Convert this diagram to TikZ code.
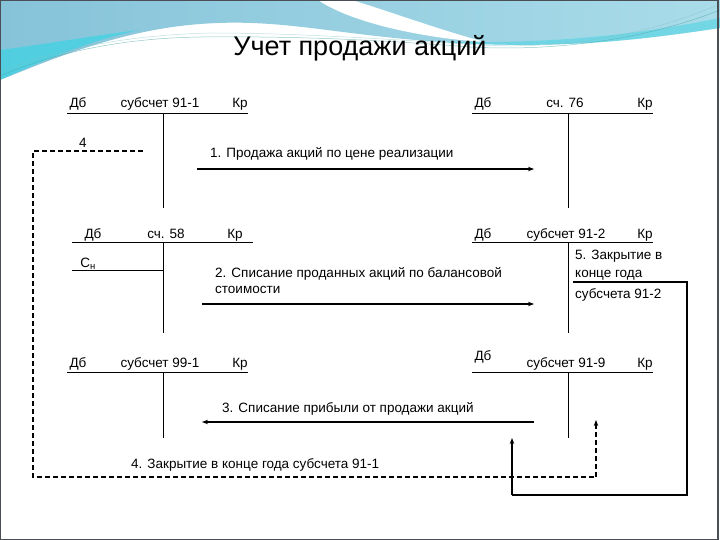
\documentclass[tikz,border=0pt]{standalone}
\usepackage{fontspec}
\setmainfont{Liberation Sans}
\usetikzlibrary{arrows.meta}
\definecolor{bandl}{HTML}{86C3D9}
\definecolor{bandr}{HTML}{A9DCE9}
\definecolor{wavecyan}{HTML}{3FD3E3}
\definecolor{frame}{HTML}{4A4F55}
\newcommand{\lbfont}{\fontsize{13.5}{16}\selectfont}

\begin{document}
\begin{tikzpicture}[x=1pt,y=-1pt,>=Stealth,
  lbl/.style={font=\lbfont,anchor=base,inner sep=0pt},
  lbll/.style={lbl,anchor=base west},
  acct/.style={line width=0.9pt},
  post/.style={line width=2.3pt,-{Stealth[length=6pt,width=4.5pt]}},
  closing/.style={line width=1.3pt,dash pattern=on 5pt off 3pt}]
  \useasboundingbox (0,0) rectangle (720,540);
  % background: blue band at the top
  \shade[left color=bandl,right color=bandr]
    (0,0) -- (720,0) -- (720,28)
    .. controls (640,40) and (560,50) .. (440,42)
    .. controls (330,34) and (280,18) .. (200,24)
    .. controls (120,30) and (50,60) .. (0,80) -- cycle;
  \fill[wavecyan,opacity=0.75]
    (0,50) .. controls (40,45) and (90,36) .. (140,30)
    .. controls (90,40) and (40,62) .. (0,80) -- cycle;
  \fill[wavecyan,opacity=0.5]
    (440,42) .. controls (560,50) and (640,40) .. (720,28) -- (720,18)
    .. controls (640,34) and (560,44) .. (440,42) -- cycle;
  % white stripe on the right
  \fill[white] (318,0) -- (352,0)
    .. controls (400,15) and (440,30) .. (485,42)
    .. controls (420,38) and (350,22) .. (318,0) -- cycle;
  % thin lines along the wave
  \draw[teal!70,opacity=0.6,line width=0.5pt]
    (0,76) .. controls (60,50) and (130,38) .. (200,37)
    .. controls (300,36) and (380,40) .. (470,47)
    .. controls (560,52) and (650,38) .. (720,10);
  \draw[teal!50,opacity=0.5,line width=0.5pt]
    (0,72) .. controls (60,48) and (130,35) .. (210,33)
    .. controls (300,33) and (400,40) .. (480,45)
    .. controls (580,50) and (660,30) .. (720,4);
  % slide frame
  \draw[frame,line width=1.2pt] (0.6,0.6) rectangle (718,539.4);
  % title
  \node[font=\fontsize{27}{30}\selectfont,inner sep=0pt] (title) at (360,48) {Учет продажи акций};

  % T-account: subaccount 91-1
  \node[lbl] (db911) at (78,108) {Дб};
  \node[lbl] (nm911) at (160,108) {субсчет 91-1};
  \node[lbl] (kr911) at (240,108) {Кр};
  \draw[acct] (67,113) -- (248,113);
  \draw[acct] (163,113) -- (163,208);
  \node[lbl] (n4) at (83,148) {4};

  % T-account: 58
  \node[lbl] (db58) at (93,238) {Дб};
  \node[lbl] (nm58) at (166,238) {сч. 58};
  \node[lbl] (kr58) at (235,238) {Кр};
  \draw[acct] (72,242) -- (253,242);
  \draw[acct] (163,242) -- (163,333);
  \node[lbl] (sn) at (88,267) {С\textsubscript{н}};
  \draw[acct] (72,270) -- (163,270);

  % T-account: subaccount 99-1
  \node[lbl] (db991) at (78,367) {Дб};
  \node[lbl] (nm991) at (160,367) {субсчет 99-1};
  \node[lbl] (kr991) at (240,367) {Кр};
  \draw[acct] (67,372) -- (248,372);
  \draw[acct] (163,372) -- (163,438);

  % T-account: 76
  \node[lbl] (db76) at (483,108) {Дб};
  \node[lbl] (nm76) at (565,108) {сч. 76};
  \node[lbl] (kr76) at (645,108) {Кр};
  \draw[acct] (472,113) -- (653,113);
  \draw[acct] (568,113) -- (568,208);

  % T-account: subaccount 91-2
  \node[lbl] (db912) at (483,238) {Дб};
  \node[lbl] (nm912) at (566,238) {субсчет 91-2};
  \node[lbl] (kr912) at (645,238) {Кр};
  \draw[acct] (472,242) -- (653,242);
  \draw[acct] (568,242) -- (568,333);

  % T-account: subaccount 91-9
  \node[lbl] (db919) at (483,360) {Дб};
  \node[lbl] (nm919) at (566,367) {субсчет 91-9};
  \node[lbl] (kr919) at (645,367) {Кр};
  \draw[acct] (472,372) -- (653,372);
  \draw[acct] (568,372) -- (568,438);

  % entries
  \node[lbll] (t1) at (210,158) {1. Продажа акций по цене реализации};
  \coordinate (p1a) at (197,169);
  \coordinate (p1b) at (534,169);
  \draw[post] (p1a) -- (p1b);

  \node[lbll] (t2) at (215,277) {2. Списание проданных акций по балансовой};
  \node[lbll] (t2b) at (215,293) {стоимости};
  \coordinate (p2a) at (202,304);
  \coordinate (p2b) at (534,304);
  \draw[post] (p2a) -- (p2b);

  \node[lbll] (t3) at (222,412) {3. Списание прибыли от продажи акций};
  \coordinate (p3a) at (534,422);
  \coordinate (p3b) at (202,422);
  \draw[post] (p3a) -- (p3b);

  % closing 91-1 (dashed)
  \node[lbll] (t4) at (131,468) {4. Закрытие в конце года субсчета 91-1};
  \coordinate (c4a) at (143,151);
  \coordinate (c4b) at (33,151);
  \coordinate (c4c) at (33,477);
  \coordinate (c4d) at (596,477);
  \coordinate (c4e) at (596,420);
  \draw[closing] (c4a) -- (c4b) -- (c4c) -- (c4d);
  \draw[closing,-{Stealth[length=6pt,width=4.5pt]}] (c4d) -- (c4e);

  % closing 91-2
  \node[lbll] (t5) at (575,259) {5. Закрытие в};
  \node[lbll] (t5b) at (575,277) {конце года};
  \node[lbll] (t5c) at (575,298) {субсчета 91-2};
  \coordinate (c5a) at (573,282);
  \coordinate (c5b) at (687,282);
  \coordinate (c5c) at (687,495);
  \coordinate (c5d) at (512,495);
  \coordinate (c5e) at (512,438);
  \draw[line width=1.2pt] (c5a) -- (c5b) -- (c5c) -- (c5d);
  \draw[line width=2pt,-{Stealth[length=6pt,width=4.5pt]}] (c5d) -- (c5e);
\end{tikzpicture}
\end{document}
